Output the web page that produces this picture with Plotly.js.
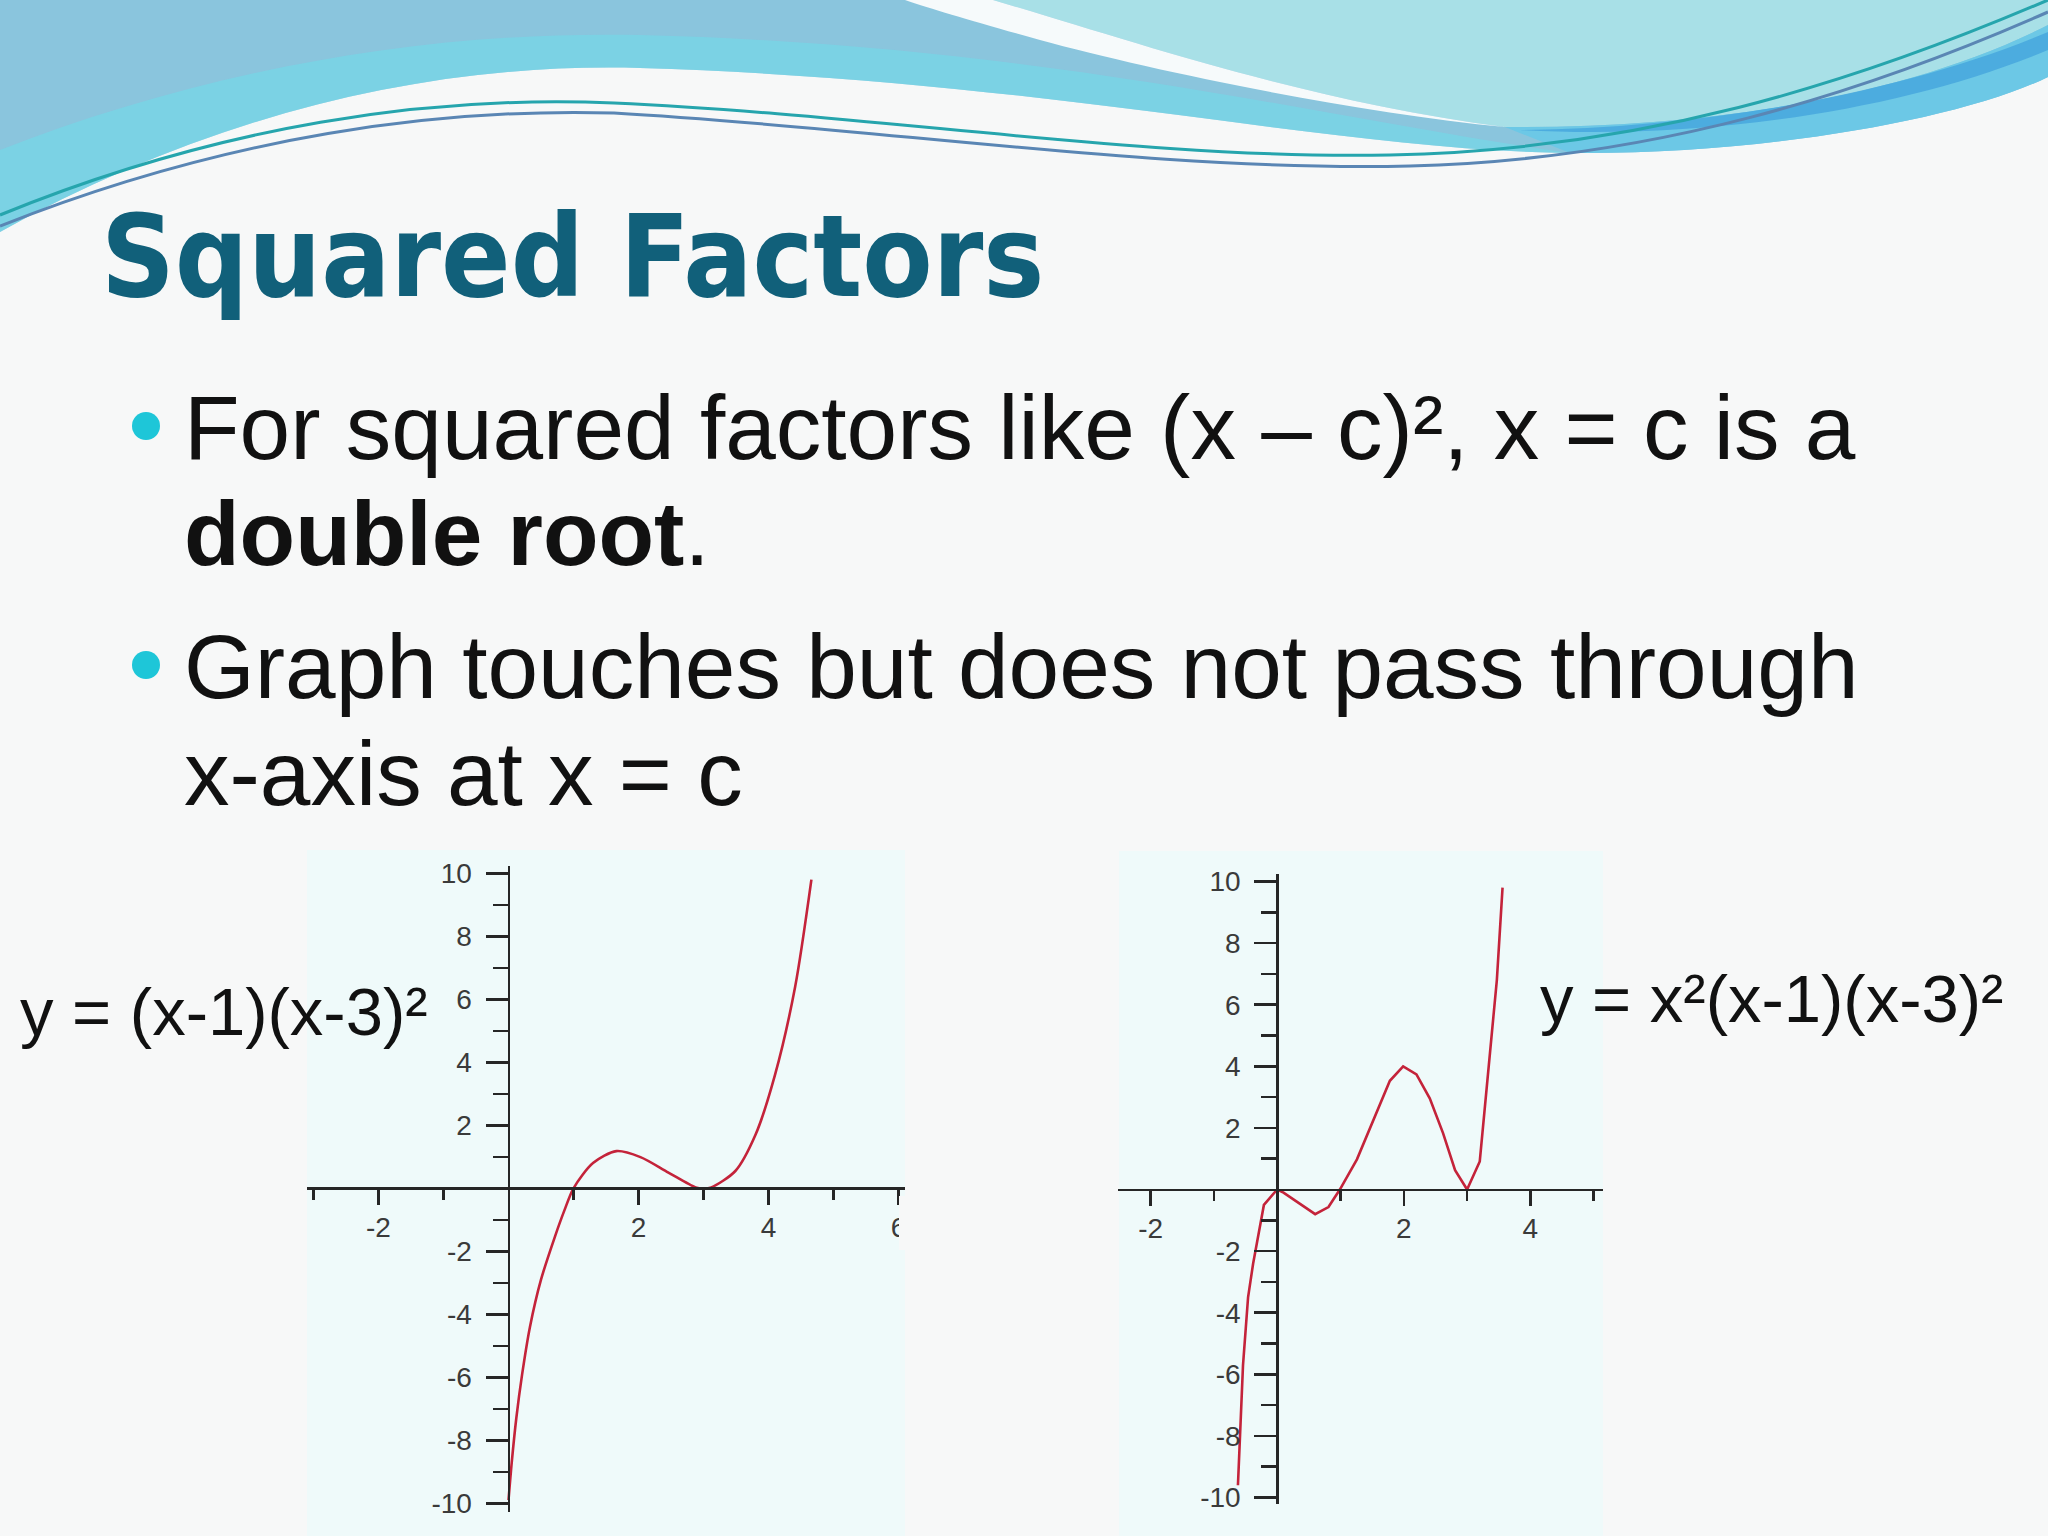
<!DOCTYPE html>
<html>
<head>
<meta charset="utf-8">
<script src="https://cdn.plot.ly/plotly-3.0.1.min.js"></script>
<style>
html,body{margin:0;padding:0;background:#f7f8f8;}
#chart{width:2048px;height:1536px;}
</style>
</head>
<body>
<div id="chart"></div>
<script>
// ---------- data ----------
// left graph: y = (x-1)(x-3)^2
const leftX = [0.0, 0.05, 0.12, 0.21, 0.33, 0.5, 0.72, 0.86, 1.0, 1.3, 1.66, 2.03, 2.46, 2.88, 3.0, 3.12, 3.49, 3.8, 4.1, 4.41, 4.66];
const leftY = [-9.9, -8.7, -7.3, -5.9, -4.4, -2.9, -1.5, -0.7, 0.0, 0.8, 1.18, 0.99, 0.5, 0.03, 0.0, 0.03, 0.55, 1.7, 3.6, 6.4, 9.8];
// right graph: y = x^2(x-1)(x-3)^2
const rightX = [-0.62, -0.58, -0.54, -0.46, -0.38, -0.21, 0.0, 0.1, 0.6, 0.81, 0.99, 1.26, 1.52, 1.78, 1.99, 2.2, 2.41, 2.62, 2.81, 3.0, 3.2, 3.36, 3.47, 3.56];
const rightY = [-9.6, -7.6, -5.7, -3.5, -2.4, -0.5, 0.0, -0.1, -0.8, -0.57, 0.0, 0.98, 2.25, 3.53, 4.0, 3.74, 2.96, 1.83, 0.63, 0.0, 0.91, 4.4, 6.8, 9.8];

// tick labels
const leftXTickVals = [-2, 2, 4, 6];
const leftXTickText = ['-2', '2', '4', '6'];
const leftXMinorVals = [-3, -1, 1, 3, 5];
const rightXTickVals = [-2, 2, 4];
const rightXTickText = ['-2', '2', '4'];
const rightXMinorVals = [-1, 1, 3, 5];
const yTickVals = [-10, -8, -6, -4, -2, 2, 4, 6, 8, 10];
const yTickText = ['-10', '-8', '-6', '-4', '-2', '2', '4', '6', '8', '10'];
const yMinorVals = [-9, -7, -5, -3, -1, 1, 3, 5, 7, 9];

// text
const titleText = 'Squared Factors';
const bulletLines = [
  'For squared factors like (x \u2013 c)\u00b2, x = c is a',
  '<b>double root</b>.',
  'Graph touches but does not pass through',
  'x-axis at x = c'
];
const leftEq = 'y = (x-1)(x-3)\u00b2';
const rightEq = 'y = x\u00b2(x-1)(x-3)\u00b2';

// ---------- layout helpers (pixel -> paper) ----------
const W = 2048, H = 1536;
const fx = p => p / W;
const fy = p => 1 - p / H;
function P(s) {
  return s.replace(/(-?\d+(?:\.\d+)?),(-?\d+(?:\.\d+)?)/g,
    (m, a, b) => (a / W).toFixed(5) + ',' + (1 - b / H).toFixed(5));
}

const SANS = 'Liberation Sans, Arial, sans-serif';
const axisColor = '#262626';
const tickFont = {family: SANS, size: 28, color: '#3a3a3a'};
const curveColor = '#c4233a';

const traces = [
  {x: leftX, y: leftY, xaxis: 'x', yaxis: 'y', type: 'scatter', mode: 'lines',
   line: {color: curveColor, width: 2.6, shape: 'spline', smoothing: 0.8}, hoverinfo: 'skip'},
  {x: rightX, y: rightY, xaxis: 'x2', yaxis: 'y2', type: 'scatter', mode: 'lines',
   line: {color: curveColor, width: 2.6}, hoverinfo: 'skip'}
];

function xAx(domain, range, pos, vals, text, minor, len, mlen) {
  return {
    domain: domain, range: range, anchor: 'free', position: pos, side: 'bottom',
    showline: true, linecolor: axisColor, linewidth: 2.6, zeroline: false, showgrid: false,
    tickmode: 'array', tickvals: vals, ticktext: text, ticks: 'outside', ticklen: len,
    tickwidth: 2.6, tickcolor: axisColor, tickfont: tickFont, ticklabelstandoff: -2,
    minor: {tickmode: 'array', tickvals: minor, ticks: 'outside', ticklen: mlen,
            tickwidth: 2.6, tickcolor: axisColor, showgrid: false},
    fixedrange: true
  };
}
function yAx(domain, range, pos) {
  return {
    domain: domain, range: range, anchor: 'free', position: pos, side: 'left',
    showline: true, linecolor: axisColor, linewidth: 2.6, zeroline: false, showgrid: false,
    tickmode: 'array', tickvals: yTickVals, ticktext: yTickText, ticks: 'outside', ticklen: 22,
    tickwidth: 2.6, tickcolor: axisColor, tickfont: tickFont, ticklabelstandoff: 8,
    minor: {tickmode: 'array', tickvals: yMinorVals, ticks: 'outside', ticklen: 15,
            tickwidth: 2.6, tickcolor: axisColor, showgrid: false},
    fixedrange: true
  };
}

const shapes = [
  // decorative header
  {type: 'path', xref: 'paper', yref: 'paper', layer: 'below', line: {width: 0}, fillcolor: '#8ac5dd',
   path: P('M0,0 L2048,0 L2048,77 C1960,120 1760,155 1570,153 C1330,150 1050,80 640,68 C420,62 200,120 0,232 Z')},
  {type: 'path', xref: 'paper', yref: 'paper', layer: 'below', line: {width: 0}, fillcolor: '#70dcea', opacity: 0.55,
   path: P('M0,232 C200,120 420,62 640,68 C1050,80 1330,150 1570,153 C1330,120 1050,45 640,35 C400,30 180,80 0,150 Z')},
  {type: 'path', xref: 'paper', yref: 'paper', layer: 'below', line: {width: 0}, fillcolor: '#a8e0e7',
   path: P('M993,0 L2048,0 L2048,25 C1900,100 1700,128 1505,127 C1300,100 1130,40 993,0 Z')},
  {type: 'path', xref: 'paper', yref: 'paper', layer: 'below', line: {width: 0}, fillcolor: '#f6fafb',
   path: P('M905,0 L993,0 C1130,40 1300,100 1505,127 C1350,112 1150,70 1040,40 C975,22 935,10 905,0 Z')},
  {type: 'path', xref: 'paper', yref: 'paper', layer: 'below', line: {width: 0}, fillcolor: '#6cc8e6',
   path: P('M1505,127 C1700,128 1900,100 2048,25 L2048,77 C1960,120 1760,155 1570,153 Z')},
  {type: 'path', xref: 'paper', yref: 'paper', layer: 'below', line: {width: 0}, fillcolor: '#3f9fdc', opacity: 0.7,
   path: P('M1520,130 C1700,128 1900,95 2048,32 L2048,50 C1900,112 1700,140 1520,130 Z')},
  {type: 'path', xref: 'paper', yref: 'paper', layer: 'below', line: {color: '#26a5ad', width: 3},
   path: P('M0,215 C220,125 430,95 614,103 C880,115 1150,160 1390,155 C1640,150 1850,85 2048,0')},
  {type: 'path', xref: 'paper', yref: 'paper', layer: 'below', line: {color: '#5a86b4', width: 3},
   path: P('M0,226 C230,135 440,108 614,113 C880,128 1160,172 1410,166 C1650,160 1860,95 2048,12')},
  // graph backgrounds
  {type: 'rect', xref: 'paper', yref: 'paper', layer: 'below', line: {width: 0}, fillcolor: '#effafa',
   x0: fx(307), x1: fx(905), y0: fy(1536), y1: fy(850)},
  {type: 'rect', xref: 'paper', yref: 'paper', layer: 'below', line: {width: 0}, fillcolor: '#effafa',
   x0: fx(1119), x1: fx(1603), y0: fy(1536), y1: fy(851)},
  // bullets
  {type: 'circle', xref: 'paper', yref: 'paper', layer: 'below', line: {width: 0}, fillcolor: '#1ec6d8',
   x0: fx(132), x1: fx(160), y0: fy(440), y1: fy(412)},
  {type: 'circle', xref: 'paper', yref: 'paper', layer: 'below', line: {width: 0}, fillcolor: '#1ec6d8',
   x0: fx(132), x1: fx(160), y0: fy(679), y1: fy(651)},
  // image edge cutting the "6" label
  {type: 'rect', xref: 'paper', yref: 'paper', layer: 'above', line: {width: 0}, fillcolor: '#f7f8f8',
   x0: fx(899), x1: fx(930), y0: fy(1250), y1: fy(1196)}
];

function ann(text, x, yBottom, size, family, color) {
  return {text: text, xref: 'paper', yref: 'paper', x: fx(x), y: fy(yBottom),
          xanchor: 'left', yanchor: 'bottom', showarrow: false, borderpad: 0,
          font: {family: family, size: size, color: color}, align: 'left'};
}

const annotations = [
  ann('<b>' + titleText + '</b>', 100, 324, 114, 'DejaVu Sans Condensed, DejaVu Sans, sans-serif', '#11607a'),
  ann(bulletLines[0], 183, 479, 91, SANS, '#111111'),
  ann(bulletLines[1], 183, 585, 91, SANS, '#111111'),
  ann(bulletLines[2], 183, 718, 91, SANS, '#111111'),
  ann(bulletLines[3], 183, 825, 91, SANS, '#111111'),
  ann(leftEq, 19, 1050, 67, SANS, '#111111'),
  ann(rightEq, 1539, 1037, 67, SANS, '#111111')
];

const layout = {
  width: W, height: H,
  margin: {l: 0, r: 0, t: 0, b: 0, pad: 0},
  paper_bgcolor: '#f7f8f8',
  plot_bgcolor: 'rgba(0,0,0,0)',
  showlegend: false,
  xaxis: xAx([fx(307), fx(905)], [-3.1, 6.1], fy(1188.3), leftXTickVals, leftXTickText, leftXMinorVals, 15, 10),
  yaxis: yAx([fy(1511.8), fy(866.1)], [-10.27, 10.23], fx(508.5)),
  xaxis2: xAx([fx(1118.3), fx(1603.2)], [-2.51, 5.15], fy(1189.5), rightXTickVals, rightXTickText, rightXMinorVals, 15, 10),
  yaxis2: yAx([fy(1503.7), fy(874.1)], [-10.2, 10.24], fx(1277.2)),
  shapes: shapes,
  annotations: annotations
};

Plotly.newPlot('chart', traces, layout, {staticPlot: true, displayModeBar: false});
</script>
</body>
</html>
